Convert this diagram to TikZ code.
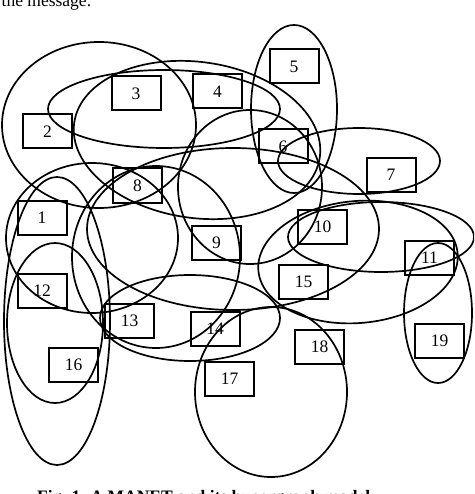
\documentclass[tikz,border=0pt]{standalone}
\usepackage{fontspec}
\setmainfont{Liberation Serif}
\begin{document}
\begin{tikzpicture}[x=1pt,y=-1pt,
  box/.style={draw,line width=2pt,minimum width=49pt,minimum height=34pt,inner sep=0pt,font=\fontsize{17.5}{20}\selectfont},
  hedge/.style={line width=1.7pt},
  txt/.style={anchor=base west,inner sep=0pt,font=\fontsize{17.5}{20}\selectfont}]
\useasboundingbox (0,0) rectangle (474,494);
\clip (0,0) rectangle (474,494);
\node[txt] (topline) at (1.5,7) {the message.};
\node[txt,font=\fontsize{17.5}{20}\selectfont\bfseries] (caption) at (37,502.5) {Fig. 1. A MANET and its hypergraph model};
% hyperedges
\draw[hedge] (99,125) ellipse [x radius=97, y radius=83];
\draw[hedge] (164,109) ellipse [x radius=116, y radius=39];
\draw[hedge,rotate around={-8:(197,140)}] (197,140) ellipse [x radius=124, y radius=78];
\draw[hedge] (294,109) ellipse [x radius=43, y radius=84];
\draw[hedge] (359,161) ellipse [x radius=81, y radius=33];
\draw[hedge] (250,187) ellipse [x radius=72, y radius=77];
\draw[hedge] (233,229) ellipse [x radius=146, y radius=81];
\draw[hedge] (381,237) ellipse [x radius=93, y radius=35];
\draw[hedge,rotate around={5:(358,262)}] (358,262) ellipse [x radius=100, y radius=61];
\draw[hedge] (438,313) ellipse [x radius=34, y radius=70];
\draw[hedge] (271,392) ellipse [x radius=76, y radius=85];
\draw[hedge] (190,318) ellipse [x radius=90, y radius=43];
\draw[hedge] (156,257) ellipse [x radius=84, y radius=91];
\draw[hedge] (92,238) ellipse [x radius=86, y radius=75];
\draw[hedge] (57,321) ellipse [x radius=53, y radius=144];
\draw[hedge] (55,323) ellipse [x radius=48, y radius=80];
% nodes
\node[box] (n1) at (42,218) {1};
\node[box] (n2) at (47.5,131.5) {2};
\node[box] (n3) at (136,93.5) {3};
\node[box] (n4) at (217.5,91.5) {4};
\node[box] (n5) at (294,66.5) {5};
\node[box] (n6) at (283,146.5) {6};
\node[box] (n7) at (391,175) {7};
\node[box] (n8) at (137.5,185.5) {8};
\node[box] (n9) at (216.5,243) {9};
\node[box] (n10) at (322.5,227) {10};
\node[box] (n11) at (429.5,258) {11};
\node[box] (n12) at (42,290.5) {12};
\node[box] (n13) at (129.5,321) {13};
\node[box] (n14) at (215,328.5) {14};
\node[box] (n15) at (303.5,281.5) {15};
\node[box] (n16) at (73.5,364.5) {16};
\node[box] (n17) at (229.5,379) {17};
\node[box] (n18) at (319.5,347) {18};
\node[box] (n19) at (439.5,341) {19};
\end{tikzpicture}
\end{document}
